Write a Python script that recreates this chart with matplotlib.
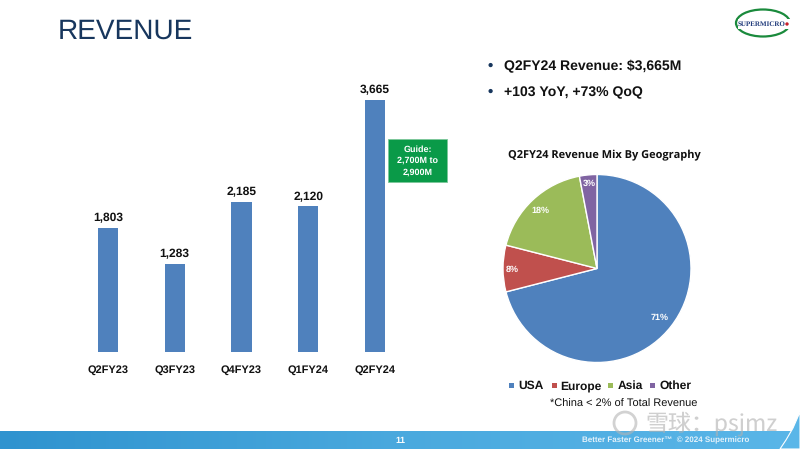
# -*- coding: utf-8 -*-
import matplotlib
matplotlib.use('Agg')
import matplotlib.pyplot as plt
from matplotlib.colors import LinearSegmentedColormap
from matplotlib.patches import Rectangle, Ellipse, Circle, Polygon
import numpy as np

plt.rcParams['font.family'] = ['Liberation Sans', 'DejaVu Sans']
plt.rcParams['text.hinting'] = 'no_hinting'
plt.rcParams['text.hinting_factor'] = 1

W, H = 800, 449

# data
quarters = ['Q2FY23', 'Q3FY23', 'Q4FY23', 'Q1FY24', 'Q2FY24']
revenue = [1803, 1283, 2185, 2120, 3665]
geo_names = ['USA', 'Europe', 'Asia', 'Other']
geo_share = [71, 8, 18, 3]
geo_colors = ['#4f81bd', '#c0504d', '#9bbb59', '#8064a2']
bullets = ['Q2FY24 Revenue: $3,665M', '+103 YoY, +73% QoQ']

fig = plt.figure(figsize=(W / 100, H / 100), dpi=100)
fig.patch.set_facecolor('white')


def box(left, top, right, bottom):
    return [left / W, 1 - bottom / H, (right - left) / W, (bottom - top) / H]


# background layer in pixel coordinates
bg = fig.add_axes([0, 0, 1, 1])
bg.axis('off')

# footer band
grad = np.linspace(0, 1, 256).reshape(1, -1)
cmap = LinearSegmentedColormap.from_list('foot', ['#2f93cf', '#4aa9de', '#5ab6e8'])
bg.imshow(grad, extent=[0, W, 449, 431], cmap=cmap, aspect='auto', zorder=1)
bg.set_xlim(0, W)
bg.set_ylim(H, 0)
bg.add_patch(Polygon([(780, 449), (786, 440), (793, 428), (800, 412), (800, 449)], fc='#5ab6e8', ec='white',
                     lw=0.8, zorder=2))
bg.text(400, 440.5, '11', color='white', fontsize=6.5, fontweight='bold', ha='center', va='center', zorder=3)
bg.text(665.5, 440, 'Better Faster Greener\u2122  \u00a9 2024 Supermicro', color='#e4f2fb', fontsize=5.7,
        fontweight='bold', ha='center', va='center', zorder=3)

# title
bg.text(58, 31, 'REVENUE', color='#17365d', fontsize=20, ha='left', va='center')

# logo
bg.add_patch(Ellipse((763, 23), 54, 27, fill=False, ec='#1a8a3c', lw=1.6, zorder=2))
bg.add_patch(Rectangle((738, 19), 54, 10, fc='white', ec='none', zorder=3))
bg.text(761.5, 24, 'SUPERMICRO', color='#1f3a7a', fontsize=5, ha='center', va='center', zorder=4,
        family=['Liberation Serif', 'DejaVu Serif'], fontweight='bold')
bg.add_patch(Circle((787, 24), 1.7, fc='#c8202c', ec='none', zorder=5))

# bullets
for y, line in zip([66, 92], bullets):
    bg.text(490, y, '\u2022', color='#17365d', fontsize=11, fontweight='bold', ha='center', va='center')
    bg.text(504, y + 1, line, color='#111111', fontsize=10, fontweight='bold', ha='left', va='center')

# guide box
bg.add_patch(Rectangle((388, 139), 59, 43, fc='#0a9a48', ec='#7cc79a', lw=0.6, zorder=4))
bg.text(417.5, 160.5, 'Guide:\n2,700M to\n2,900M', color='white', fontsize=6.6, fontweight='bold',
        ha='center', va='center', linespacing=1.45, zorder=5)

# pie title and legend
bg.text(604, 155.5, 'Q2FY24 Revenue Mix By Geography', color='#111111', fontsize=8.0, fontweight='bold',
        ha='center', va='center', family=['Open Sans', 'DejaVu Sans'])
leg_x = [511.7, 554, 610.7, 652.7]
txt_x = [518, 560.7, 617.7, 660]
for name, col, lx, tx in zip(geo_names, geo_colors, leg_x, txt_x):
    bg.add_patch(Rectangle((lx - 2.5, 383), 5, 5, fc=col, ec='none'))
    bg.text(tx, 386, name, color='#111111', fontsize=8.6, fontweight='bold', ha='left', va='center')
bg.text(550, 404.5, '*China < 2% of Total Revenue', color='#111111', fontsize=7.6, ha='left', va='center')

# bars
ax = fig.add_axes(box(74.6, 70, 408.4, 352))
ax.bar(range(5), revenue, width=0.3, color='#4f81bd')
ax.set_xlim(-0.5, 4.5)
ax.set_ylim(0, 4099)
ax.patch.set_alpha(0)
for s in ax.spines.values():
    s.set_visible(False)
ax.set_yticks([])
ax.set_xticks(range(5))
ax.set_xticklabels(quarters, fontsize=8.2, fontweight='bold', color='#111111')
ax.tick_params(axis='x', length=0, pad=9)
for i, v in enumerate(revenue):
    ax.annotate('{:,}'.format(v), (i, v), xytext=(0, 4), textcoords='offset pixels', ha='center', va='bottom',
                fontsize=8.8, fontweight='bold', color='#111111')

# pie
pa = fig.add_axes(box(503, 174.5, 691, 362.5))
pa.pie(geo_share, colors=geo_colors, startangle=90, counterclock=False, radius=1.0,
       wedgeprops={'edgecolor': 'white', 'linewidth': 1.0})
pa.set_xlim(-1, 1)
pa.set_ylim(-1, 1)

# layer over the pie
top = fig.add_axes([0, 0, 1, 1])
top.set_xlim(0, W)
top.set_ylim(H, 0)
top.axis('off')
pie_lab_x = [660, 512, 540, 589]
pie_lab_y = [318, 270, 211, 184]
for share, px, py in zip(geo_share, pie_lab_x, pie_lab_y):
    top.text(px, py, '{}%'.format(share), color='white', fontsize=6.6, fontweight='bold',
             ha='center', va='center')

# watermark
top.text(645, 423.5, '\u96ea\u7403\uff1apsjmz', color='#b0b0b0', alpha=0.6, fontsize=16.5, ha='left', va='center',
         family=['Noto Sans CJK SC', 'DejaVu Sans'])
top.add_patch(Circle((625, 423), 11, fill=False, ec='#b5b5b5', lw=2, alpha=0.6))

fig.savefig('out.png', dpi=100)
